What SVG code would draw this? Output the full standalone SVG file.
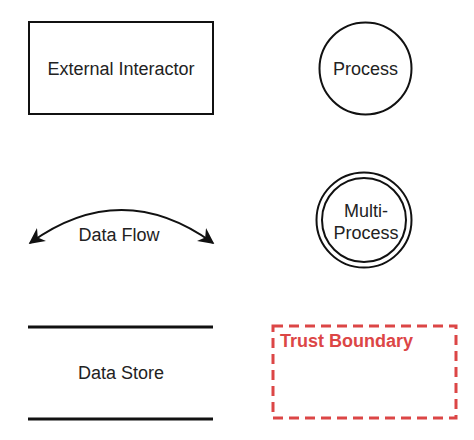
<svg xmlns="http://www.w3.org/2000/svg" width="474" height="440" viewBox="0 0 474 440">
<style>
  .lbl { font-family: "Liberation Sans", Arial, sans-serif; font-size: 18px; fill: #222; text-anchor: middle; }
  .shape { fill: none; stroke: #111; stroke-width: 2; }
  .store { stroke: #111; stroke-width: 3; }
  .tb { fill: none; stroke: #dc4646; stroke-width: 3; stroke-dasharray: 10 6; }
  .tbl { font-family: "Liberation Sans", Arial, sans-serif; font-size: 18px; font-weight: bold; fill: #dc4646; }
</style>
<defs>
  <marker id="arr" viewBox="0 0 10 10" refX="9" refY="5" markerWidth="8" markerHeight="8" markerUnits="strokeWidth" orient="auto-start-reverse">
    <path d="M0,0 L10,5 L0,10 L3,5 Z" fill="#111"/>
  </marker>
</defs>
<rect width="474" height="440" fill="#fff"/>
<g id="external-interactor">
  <rect class="shape" x="29" y="22" width="184" height="92"/>
  <text class="lbl" x="121" y="75">External Interactor</text>
</g>
<g id="process">
  <circle class="shape" cx="365.5" cy="68.5" r="46"/>
  <text class="lbl" x="365.5" y="75">Process</text>
</g>
<g id="multi-process">
  <circle class="shape" cx="364" cy="220" r="47.5"/>
  <circle class="shape" cx="364" cy="220" r="42"/>
  <text class="lbl" x="366" y="217">Multi-</text>
  <text class="lbl" x="366" y="239">Process</text>
</g>
<g id="connectors">
  <path class="shape" d="M30,243 Q121.5,177 213,243" marker-start="url(#arr)" marker-end="url(#arr)"/>
</g>
<g id="data-flow-label">
  <text class="lbl" x="119" y="241">Data Flow</text>
</g>
<g id="data-store">
  <line class="store" x1="28" y1="327" x2="213" y2="327"/>
  <line class="store" x1="28" y1="419" x2="213" y2="419"/>
  <text class="lbl" x="121" y="379">Data Store</text>
</g>
<g id="trust-boundary">
  <rect class="tb" x="273" y="326" width="183" height="92"/>
  <text class="tbl" x="280" y="347">Trust Boundary</text>
</g>
</svg>
